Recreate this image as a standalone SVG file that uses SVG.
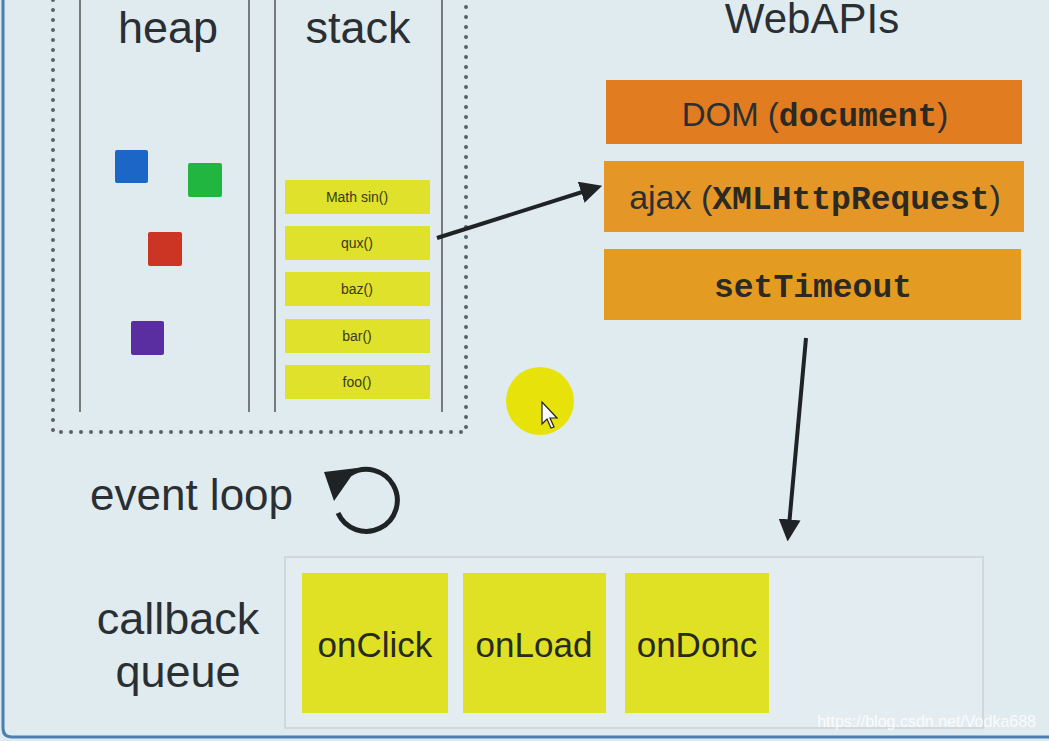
<svg xmlns="http://www.w3.org/2000/svg" width="1049" height="741" viewBox="0 0 1049 741">
<defs>
<style>
.t{font-family:"Liberation Sans",Arial,sans-serif;fill:#2a2f33}
.m{font-family:"Liberation Mono","Courier New",monospace;font-weight:bold;fill:#2a2a22}
.frame{fill:#dfe12a}
.frame-t{font-family:"Liberation Sans",Arial,sans-serif;font-size:14px;fill:#3a3a20;text-anchor:middle}
.col{stroke:#555;stroke-width:1.5}
.cb{fill:#e0e124}
.cb-t{font-family:"Liberation Sans",Arial,sans-serif;font-size:35px;fill:#262a20;text-anchor:middle}
.conn{stroke:#1f2326;stroke-width:4;fill:none}
</style>
<marker id="ah" viewBox="0 0 10 10" refX="8" refY="5" markerWidth="5.5" markerHeight="5.5" orient="auto" markerUnits="strokeWidth">
<path d="M0,0 L10,5 L0,10 z" fill="#1f2326"/>
</marker>
</defs>
<rect width="1049" height="741" fill="#e0ebf0"/>
<path d="M3,0 L3,728 Q3,737 12,737 L1049,737" fill="none" stroke="#4a7fb0" stroke-width="3"/>

<g id="runtime">
<rect x="53" y="-20" width="413" height="452" fill="none" stroke="#5a6166" stroke-width="4" stroke-dasharray="0 10" stroke-linecap="round"/>
<line class="col" x1="80" y1="0" x2="80" y2="412"/>
<line class="col" x1="249" y1="0" x2="249" y2="412"/>
<line class="col" x1="275" y1="0" x2="275" y2="412"/>
<line class="col" x1="442" y1="0" x2="442" y2="412"/>
</g>

<g id="heap">
<text class="t" x="168" y="43" font-size="45" text-anchor="middle">heap</text>
<rect x="115" y="150" width="33" height="33" rx="2" fill="#1c66c8"/>
<rect x="188" y="163" width="34" height="34" rx="2" fill="#20b640"/>
<rect x="148" y="232" width="34" height="34" rx="2" fill="#cc3424"/>
<rect x="131" y="321" width="33" height="34" rx="2" fill="#5a2ea0"/>
</g>

<g id="stack">
<text class="t" x="358" y="43" font-size="45" text-anchor="middle">stack</text>
<rect class="frame" x="285" y="180" width="145" height="34"/>
<text class="frame-t" x="357" y="202">Math sin()</text>
<rect class="frame" x="285" y="226" width="145" height="34"/>
<text class="frame-t" x="357" y="248">qux()</text>
<rect class="frame" x="285" y="272" width="145" height="34"/>
<text class="frame-t" x="357" y="294">baz()</text>
<rect class="frame" x="285" y="319" width="145" height="34"/>
<text class="frame-t" x="357" y="341">bar()</text>
<rect class="frame" x="285" y="365" width="145" height="34"/>
<text class="frame-t" x="357" y="387">foo()</text>
</g>

<g id="webapis">
<text class="t" x="812" y="33" font-size="42" text-anchor="middle">WebAPIs</text>
<rect x="606" y="80" width="416" height="64" fill="#e27c20"/>
<text x="815" y="126" text-anchor="middle"><tspan class="t" font-size="33">DOM (</tspan><tspan class="m" font-size="33">document</tspan><tspan class="t" font-size="33">)</tspan></text>
<rect x="604" y="161" width="420" height="71" fill="#e49627"/>
<text x="815" y="209" text-anchor="middle"><tspan class="t" font-size="34">ajax (</tspan><tspan class="m" font-size="33">XMLHttpRequest</tspan><tspan class="t" font-size="34">)</tspan></text>
<rect x="604" y="249" width="417" height="71" fill="#e49b22"/>
<text class="m" x="813" y="297" font-size="33" text-anchor="middle">setTimeout</text>
</g>

<g id="connectors">
<line class="conn" x1="437" y1="238" x2="598" y2="187" marker-end="url(#ah)"/>
<line class="conn" x1="806" y1="338" x2="788" y2="537" marker-end="url(#ah)"/>
</g>

<g id="cursor">
<circle cx="540" cy="401" r="34" fill="#e6e20a"/>
<path d="M542,402 L542,424 L547,419 L551,428 L554,427 L550,418 L557,418 Z" fill="#fff" stroke="#222" stroke-width="1.2"/>
</g>

<g id="event-loop">
<text class="t" x="90" y="510" font-size="44">event loop</text>
<path d="M350,474 A31,31 0 1 1 338,513" fill="none" stroke="#1f2326" stroke-width="5"/>
<path d="M324,472 L357,468 L334,501 Z" fill="#1f2326"/>
</g>

<g id="callback-queue">
<text class="t" x="178" y="634" font-size="45" text-anchor="middle">callback</text>
<text class="t" x="178" y="687" font-size="45" text-anchor="middle">queue</text>
<rect x="285" y="557" width="698" height="171" fill="#e3edf1" stroke="#c8d2d6" stroke-width="1.5"/>
<rect class="cb" x="302" y="573" width="146" height="140"/>
<text class="cb-t" x="375" y="657">onClick</text>
<rect class="cb" x="463" y="573" width="143" height="140"/>
<text class="cb-t" x="534" y="657">onLoad</text>
<rect class="cb" x="625" y="573" width="144" height="140"/>
<text class="cb-t" x="697" y="657">onDonc</text>
</g>

<text x="1036" y="727" font-family="Liberation Sans,Arial,sans-serif" font-size="16" fill="#ffffff" fill-opacity="0.85" text-anchor="end">https://blog.csdn.net/Vodka688</text>
</svg>
